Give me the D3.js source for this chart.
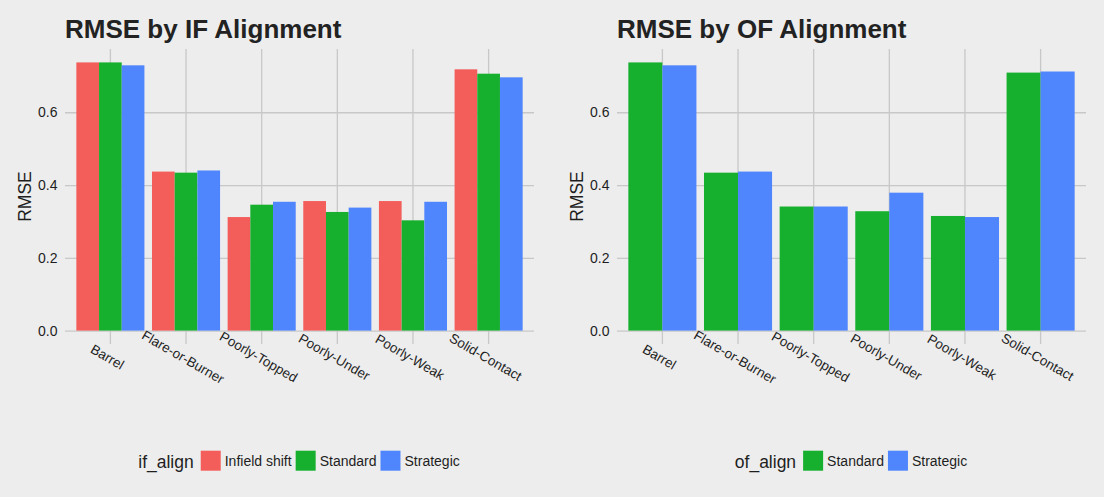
<!DOCTYPE html>
<html>
<head>
<meta charset="utf-8">
<script src="https://cdn.jsdelivr.net/npm/d3@7"></script>
<style>
  html, body { margin: 0; padding: 0; background: #ededed; }
  svg { display: block; font-family: "Liberation Sans", Arial, sans-serif; }
</style>
</head>
<body>
<svg id="chart" width="1104" height="497"></svg>
<script>
const categories = ['Barrel', 'Flare-or-Burner', 'Poorly-Topped', 'Poorly-Under', 'Poorly-Weak', 'Solid-Contact'];
const yTicks = [0.0, 0.2, 0.4, 0.6];

// left panel: infield alignment
const ifSeries = ['Infield shift', 'Standard', 'Strategic'];
const ifShift = [0.737, 0.437, 0.312, 0.356, 0.356, 0.718];
const ifStandard = [0.737, 0.434, 0.346, 0.326, 0.303, 0.706];
const ifStrategic = [0.729, 0.440, 0.354, 0.338, 0.354, 0.696];

// right panel: outfield alignment
const ofSeries = ['Standard', 'Strategic'];
const ofStandard = [0.737, 0.434, 0.341, 0.328, 0.315, 0.709];
const ofStrategic = [0.729, 0.437, 0.341, 0.379, 0.312, 0.712];

const colors = { 'Infield shift': '#f45e5a', 'Standard': '#16b02e', 'Strategic': '#4f86fd' };

const svg = d3.select('#chart');
svg.append('rect').attr('width', 1104).attr('height', 497).attr('fill', '#ededed');

function drawPanel(offsetX, title, legendTitle, series, values) {
    const g = svg.append('g').attr('transform', `translate(${offsetX},0)`);
    const left = 65, right = 534, top = 49, bottom = 344;

    const x = d3.scaleBand().domain(categories).range([left, right])
        .paddingInner(0).paddingOuter(0.1);
    const step = x.step();
    const xSub = d3.scaleBand().domain(series).range([-0.45 * step, 0.45 * step]);

    const all = values.flat();
    const maxV = d3.max(all);
    const y = d3.scaleLinear().domain([-0.05 * maxV, 1.05 * maxV]).range([bottom, top]);

    // grid
    const yGrid = d3.axisLeft(y).tickValues(yTicks).tickSize(-(right - left)).tickFormat('');
    g.append('g').attr('transform', `translate(${left},0)`).call(yGrid)
        .call(s => s.select('.domain').remove())
        .selectAll('line').attr('stroke', '#c8c8c8').attr('stroke-width', 1.3);

    const xGrid = d3.axisBottom(x).tickSize(-(bottom - top)).tickFormat('');
    g.append('g').attr('transform', `translate(0,${bottom})`).call(xGrid)
        .call(s => s.select('.domain').remove())
        .selectAll('line').attr('stroke', '#c8c8c8').attr('stroke-width', 1.3);

    // bars
    const rows = [];
    categories.forEach((c, i) => series.forEach((s, j) => rows.push({ cat: c, ser: s, v: values[j][i] })));
    g.selectAll('rect.bar').data(rows).enter().append('rect')
        .attr('class', 'bar')
        .attr('x', d => x(d.cat) + step / 2 + xSub(d.ser))
        .attr('width', xSub.bandwidth())
        .attr('y', d => y(d.v))
        .attr('height', d => y(0) - y(d.v))
        .attr('fill', d => colors[d.ser]);

    // y tick labels
    const yAxis = d3.axisLeft(y).tickValues(yTicks).tickSize(0).tickPadding(0).tickFormat(d3.format('.1f'));
    g.append('g').attr('transform', `translate(57.5,0)`).call(yAxis)
        .call(s => s.select('.domain').remove())
        .selectAll('text').attr('font-size', 14).attr('fill', '#1e1e1e')
        .attr('font-family', '"Liberation Sans", Arial, sans-serif');

    // x tick labels
    const xAxis = d3.axisBottom(x).tickSize(0).tickPadding(0);
    const xa = g.append('g').attr('transform', `translate(0,0)`).call(xAxis);
    xa.select('.domain').remove();
    xa.selectAll('.tick').attr('transform', d => `translate(${x(d) + step / 2 - 3},357)`);
    xa.selectAll('text')
        .attr('y', 0).attr('dy', '0.35em')
        .attr('transform', 'rotate(30)')
        .attr('text-anchor', 'middle')
        .attr('font-size', 13.5).attr('fill', '#1e1e1e')
        .attr('font-family', '"Liberation Sans", Arial, sans-serif');

    // titles
    g.append('text').attr('x', left).attr('y', 37.5)
        .attr('font-size', 26).attr('font-weight', 'bold').attr('fill', '#222')
        .text(title);
    g.append('text').attr('transform', `translate(31,${(top + bottom) / 2}) rotate(-90)`)
        .attr('text-anchor', 'middle').attr('font-size', 17.5).attr('fill', '#1e1e1e')
        .text('RMSE');

    // legend
    const lg = g.append('g');
    let cx = 0;
    const lt = lg.append('text').attr('x', cx).attr('y', 467.5)
        .attr('font-size', 17.5).attr('fill', '#1e1e1e').text(legendTitle);
    cx += lt.node().getComputedTextLength() + 7;
    series.forEach(s => {
        lg.append('rect').attr('x', cx).attr('y', 450.7).attr('width', 20).attr('height', 20)
            .attr('fill', colors[s]);
        cx += 24;
        const t = lg.append('text').attr('x', cx).attr('y', 465.8)
            .attr('font-size', 14).attr('fill', '#1e1e1e').text(s);
        cx += t.node().getComputedTextLength() + 4;
    });
    const total = cx - 4;
    lg.attr('transform', `translate(${299 - total / 2},0)`);
}

drawPanel(0, 'RMSE by IF Alignment', 'if_align', ifSeries, [ifShift, ifStandard, ifStrategic]);
drawPanel(552, 'RMSE by OF Alignment', 'of_align', ofSeries, [ofStandard, ofStrategic]);
</script>
</body>
</html>
